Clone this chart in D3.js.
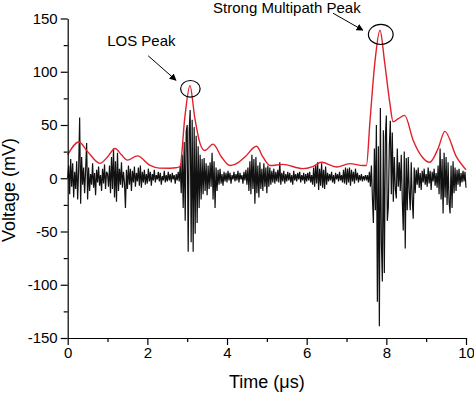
<!DOCTYPE html>
<html>
<head>
<meta charset="utf-8">
<script src="https://cdn.jsdelivr.net/npm/d3@7"></script>
<style>
  html, body { margin: 0; padding: 0; background: #fff; }
  svg { display: block; font-family: "Liberation Sans", Arial, sans-serif; }
  .axis path, .axis line { stroke: #000; stroke-width: 1.2; }
  .axis text { font-size: 15px; fill: #000; }
  .axis-title { font-size: 18px; fill: #000; }
  .note { font-size: 15px; fill: #000; }
</style>
</head>
<body>
<div id="chart"></div>
<script>
// time axis ticks (µs) and voltage ticks (mV)
const timeTicks = [0, 2, 4, 6, 8, 10];
const timeMinorTicks = [1, 3, 5, 7, 9];
const voltTicks = [-150, -100, -50, 0, 50, 100, 150];
const voltMinorTicks = [-125, -75, -25, 25, 75, 125];

// raw received signal, one sample every 0.025 µs (rows of 0.5 µs)
const signalStep = 0.025;
const signalVolts = [
  0, 12, -15, 18, -8, 14, -18, 6, -10, 16, -20, 9, 57, -24, 20, -6, 10, -14, 8, 33,
  -20, 10, -12, 4, -6, 14, -9, 5, -16, 8, -4, 11, -7, 3, -12, 9, -5, 13, -10, 6,
  4, -8, 12, -14, 20, -10, 28, -18, 16, -22, 24, -12, 9, -6, 15, -9, 6, -4, -28, 8,
  -10, 12, -6, 9, -12, 7, -4, 11, -8, 5, -3, 10, -7, 12, -9, 6, -4, 8, -6, 4,
  -5, 9, -3, 6, -7, 4, -2, 8, -4, 3, -1, 6, -3, 5, -6, 2, -2, 7, -4, 3,
  -3, 6, -2, 4, -4, 5, -1, 3, -5, 4, -2, 6, -3, 12, -14, 22, -28, 34, -40, 44,
  50, -69, 45, 64, -60, 55, -69, 48, -52, 40, -42, 30, -28, 22, -20, 18, -15, 19, -12, 14,
  -16, 12, -10, 15, -8, 24, -20, 16, -28, 10, -12, 8, -6, 9, -5, 4, -7, 6, -3, 5,
  -4, 7, -2, 5, -5, 3, -1, 6, -3, 4, -2, 7, -4, 5, -1, 3, -5, 6, -2, 8,
  -6, 10, -12, 16, -15, 22, -10, 18, -24, 20, -14, 12, -18, 15, -10, 9, -12, 14, -8, 10,
  -14, 12, -8, 10, -6, 7, -4, 9, -5, 6, -3, 8, -4, 15, -6, 5, -3, 7, -5, 4,
  -3, 6, -2, 5, -4, 3, -6, 7, -2, 4, -3, 5, -1, 6, -4, 3, -2, 5, -5, 4,
  -3, 5, -2, 6, -4, 3, -6, 10, -8, 12, -5, 15, -11, 9, -7, 14, -9, 8, -10, 11,
  -6, 5, -3, 4, -2, 6, -4, 3, -5, 5, -1, 4, -3, 6, -2, 3, -4, 8, -5, 10,
  -6, 9, -4, 10, -7, 8, -3, 6, -5, 9, -2, 5, -4, 3, -2, 4, -3, 2, -1, 3,
  -2, 3, -4, 6, -8, 12, -18, -42, 28, -30, 50, -116, 30, -139, 66, -60, -97, 45, -89, 38,
  59, -40, -27, 30, 54, -15, 43, -22, 20, -10, -19, 28, -8, 15, -12, 22, -20, -49, 25, -66,
  19, -30, 20, -12, -30, 15, -20, -38, 10, -14, 8, -6, 10, -9, 5, -11, 7, -4, 9, -6,
  4, -8, 10, -5, 7, -11, 6, -3, 9, -7, 5, -9, 12, -15, 28, -20, 18, -33, 24, -18,
  20, -25, 15, -22, -33, 12, -28, 16, -14, 10, -12, 8, -6, 9, -8, 5, -4, 7, -3, 6,
  -9
];

// envelope (red) read at its turning points
const envTimes = [0, 0.28, 0.5, 0.81, 1.0, 1.19, 1.35, 1.5, 1.75, 2.07, 2.3, 2.57, 2.72, 2.82,
  2.94, 3.07, 3.19, 3.32, 3.44, 3.65, 3.86, 4.07, 4.2, 4.45, 4.74, 4.9, 5.08, 5.4, 5.9, 6.15,
  6.37, 6.75, 7.08, 7.42, 7.5, 7.59, 7.71, 7.84, 7.96, 8.09, 8.17, 8.3, 8.46, 8.67, 8.9,
  9.09, 9.3, 9.47, 9.76, 10.0];
const envVolts = [22, 34, 25, 14, 20, 28, 22, 17, 21, 12, 9.5, 9.4, 9.8, 11,
  57, 87, 57, 33, 26, 32, 20, 12, 13, 20, 30, 20, 12, 13, 9, 11,
  15, 10.6, 13.7, 12, 12, 54, 108, 139, 108, 70, 53, 56, 59, 36, 20,
  15, 28, 44, 20, 8];

// annotations, in data units
const noteLabels = ["LOS Peak", "Strong Multipath Peak"];
const noteTextAt = [[0.99, 124], [3.65, 155.5]];
const noteArrowFrom = [[2.02, 115], [6.66, 155]];
const noteArrowTo = [[2.72, 92], [7.41, 139]];
const noteRingAt = [[3.08, 84], [7.86, 135]];
const noteRingSize = [[0.245, 7.8], [0.31, 9.4]];

const width = 474;
const height = 394;
const margin = { top: 18.5, right: 8, bottom: 56, left: 67.7 };

const svg = d3.select("#chart")
  .append("svg")
  .attr("width", width)
  .attr("height", height);

const x = d3.scaleLinear()
  .domain([0, 10])
  .range([margin.left, width - margin.right]);

const y = d3.scaleLinear()
  .domain([-150, 150])
  .range([height - margin.bottom, margin.top]);

// plain hyphen for negatives, like the original
const plain = d => String(d);

// arrow head
svg.append("defs").append("marker")
  .attr("id", "head")
  .attr("viewBox", "0 0 10 10")
  .attr("refX", 9)
  .attr("refY", 5)
  .attr("markerWidth", 7)
  .attr("markerHeight", 7)
  .attr("markerUnits", "userSpaceOnUse")
  .attr("orient", "auto")
  .append("path")
  .attr("d", "M0,0 L10,5 L0,10 z")
  .attr("fill", "#000");

// raw signal
const signal = signalVolts.map((v, i) => ({ t: i * signalStep, v: v }));
svg.append("path")
  .datum(signal)
  .attr("fill", "none")
  .attr("stroke", "#111")
  .attr("stroke-width", 1.2)
  .attr("d", d3.line().x(d => x(d.t)).y(d => y(d.v)));

// envelope
const env = envTimes.map((t, i) => ({ t: t, v: envVolts[i] }));
svg.append("path")
  .datum(env)
  .attr("fill", "none")
  .attr("stroke", "#e0202a")
  .attr("stroke-width", 1.4)
  .attr("d", d3.line().x(d => x(d.t)).y(d => y(d.v)).curve(d3.curveMonotoneX));

// axes
const bottomMinor = svg.append("g")
  .attr("class", "axis")
  .attr("transform", `translate(0, ${y(-150)})`)
  .call(d3.axisBottom(x).tickValues(timeMinorTicks).tickSize(4).tickSizeOuter(0).tickFormat(""));
bottomMinor.select(".domain").remove();

svg.append("g")
  .attr("class", "axis")
  .attr("transform", `translate(0, ${y(-150)})`)
  .call(d3.axisBottom(x).tickValues(timeTicks).tickSize(7).tickSizeOuter(0).tickPadding(2).tickFormat(plain));

const leftMinor = svg.append("g")
  .attr("class", "axis")
  .attr("transform", `translate(${x(0)}, 0)`)
  .call(d3.axisLeft(y).tickValues(voltMinorTicks).tickSize(4).tickSizeOuter(0).tickFormat(""));
leftMinor.select(".domain").remove();

svg.append("g")
  .attr("class", "axis")
  .attr("transform", `translate(${x(0)}, 0)`)
  .call(d3.axisLeft(y).tickValues(voltTicks).tickSize(7).tickSizeOuter(0).tickPadding(3).tickFormat(plain));

svg.selectAll(".axis").attr("font-family", null).attr("font-size", null);

// axis titles
svg.append("text")
  .attr("class", "axis-title")
  .attr("x", x(5))
  .attr("y", 388)
  .attr("text-anchor", "middle")
  .text("Time (\u03bcs)");

svg.append("text")
  .attr("class", "axis-title")
  .attr("transform", `translate(15, ${y(-11)}) rotate(-90)`)
  .attr("text-anchor", "middle")
  .text("Voltage (mV)");

// annotations
noteLabels.forEach((label, i) => {
  svg.append("text")
    .attr("class", "note")
    .attr("x", x(noteTextAt[i][0]))
    .attr("y", y(noteTextAt[i][1]))
    .text(label);

  svg.append("line")
    .attr("x1", x(noteArrowFrom[i][0]))
    .attr("y1", y(noteArrowFrom[i][1]))
    .attr("x2", x(noteArrowTo[i][0]))
    .attr("y2", y(noteArrowTo[i][1]))
    .attr("stroke", "#000")
    .attr("stroke-width", 1)
    .attr("marker-end", "url(#head)");

  svg.append("ellipse")
    .attr("cx", x(noteRingAt[i][0]))
    .attr("cy", y(noteRingAt[i][1]))
    .attr("rx", x(noteRingSize[i][0]) - x(0))
    .attr("ry", y(0) - y(noteRingSize[i][1]))
    .attr("fill", "none")
    .attr("stroke", "#000")
    .attr("stroke-width", 1.2);
});
</script>
</body>
</html>
